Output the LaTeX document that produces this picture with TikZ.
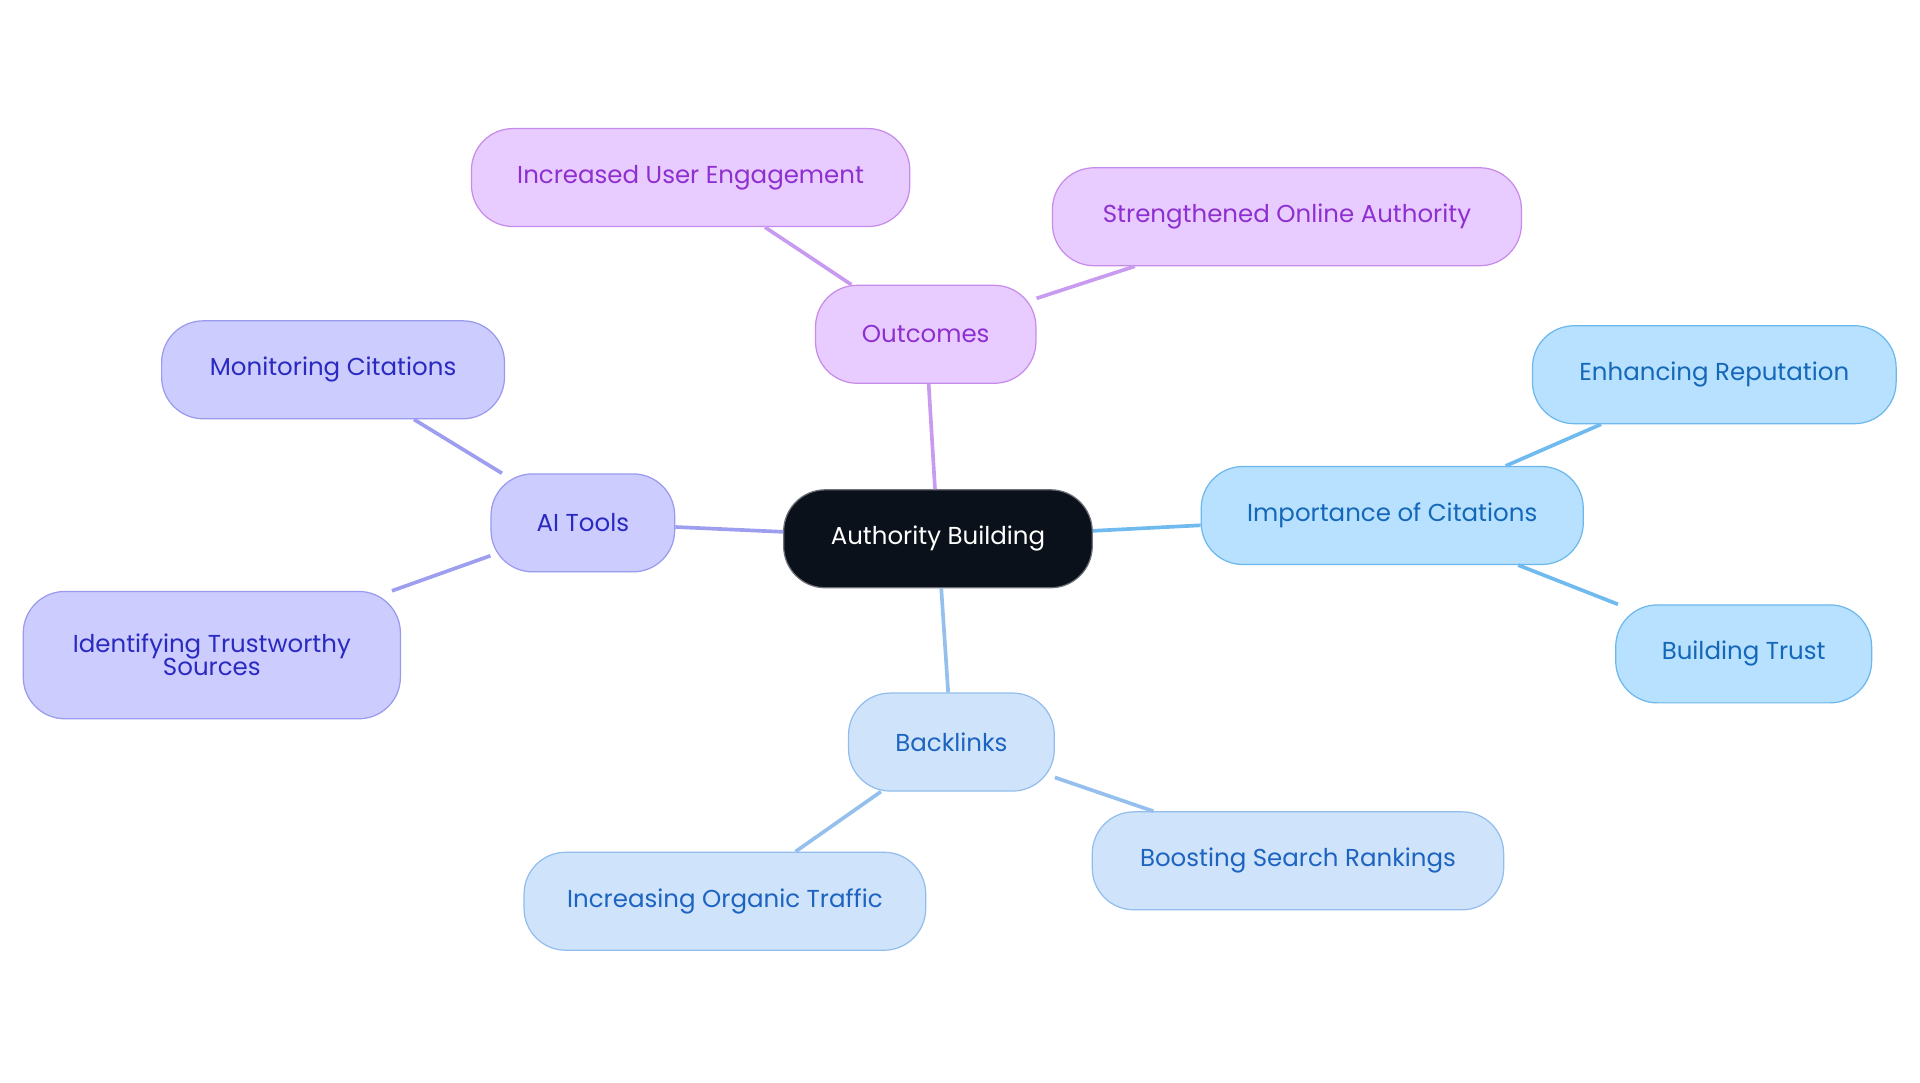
\documentclass[tikz,border=0pt]{standalone}
\usepackage{fontspec}
\setmainfont{Poppins}
\begin{document}
\begin{tikzpicture}[x=1pt,y=-1pt,
 box/.style={rounded corners=34pt,draw,line width=1pt,minimum height=80pt,font=\fontsize{20}{22}\selectfont,inner sep=0pt,align=center},
 pu/.style={box,fill=pfill,draw=pdraw,text=ptext},
 ai/.style={box,fill=afill,draw=adraw,text=atext},
 ci/.style={box,fill=cfill,draw=cdraw,text=ctext},
 bl/.style={box,fill=bfill,draw=bdraw,text=btext},
 e/.style={line width=3pt}]
\definecolor{pfill}{HTML}{E8CCFF}\definecolor{pdraw}{HTML}{C78BEA}\definecolor{ptext}{HTML}{8E2FD0}\definecolor{pline}{HTML}{C99BF0}
\definecolor{afill}{HTML}{CCCCFF}\definecolor{adraw}{HTML}{9A9AEE}\definecolor{atext}{HTML}{2A2AC0}\definecolor{aline}{HTML}{9E9EF0}
\definecolor{cfill}{HTML}{B7E1FF}\definecolor{cdraw}{HTML}{6CB8EC}\definecolor{ctext}{HTML}{1568B8}\definecolor{cline}{HTML}{6FBAEE}
\definecolor{bfill}{HTML}{CFE3FB}\definecolor{bdraw}{HTML}{92BDED}\definecolor{btext}{HTML}{1D64C0}\definecolor{bline}{HTML}{95C0EE}
\definecolor{dark}{HTML}{0B111A}
\useasboundingbox (0,0) rectangle (1568,884);
\node[box,fill=dark,draw=dark!60,text=white,minimum width=252pt] (ab) at (766,440) {Authority Building};
\node[pu,minimum width=180pt] (out) at (756,273) {Outcomes};
\node[pu,minimum width=358pt] (iue) at (564,145) {Increased User Engagement};
\node[pu,minimum width=383pt] (soa) at (1051,177) {Strengthened Online Authority};
\node[ai,minimum width=150pt] (ai) at (476,427) {AI Tools};
\node[ai,minimum width=280pt] (mc) at (272,302) {Monitoring Citations};
\node[ai,minimum width=308pt,minimum height=104pt] (its) at (173,535) {Identifying Trustworthy\\[-3pt]Sources};
\node[ci,minimum width=312pt] (ioc) at (1137,421) {Importance of Citations};
\node[ci,minimum width=297pt] (er) at (1400,306) {Enhancing Reputation};
\node[ci,minimum width=209pt] (bt) at (1424,534) {Building Trust};
\node[bl,minimum width=168pt] (bk) at (777,606) {Backlinks};
\node[bl,minimum width=328pt] (iot) at (592,736) {Increasing Organic Traffic};
\node[bl,minimum width=336pt] (bsr) at (1060,703) {Boosting Search Rankings};
\draw[e,pline] (ab) -- (out); \draw[e,pline] (out) -- (iue); \draw[e,pline] (out) -- (soa);
\draw[e,aline] (ab) -- (ai); \draw[e,aline] (ai) -- (mc); \draw[e,aline] (ai) -- (its);
\draw[e,cline] (ab) -- (ioc); \draw[e,cline] (ioc) -- (er); \draw[e,cline] (ioc) -- (bt);
\draw[e,bline] (ab) -- (bk); \draw[e,bline] (bk) -- (iot); \draw[e,bline] (bk) -- (bsr);
\end{tikzpicture}
\end{document}
